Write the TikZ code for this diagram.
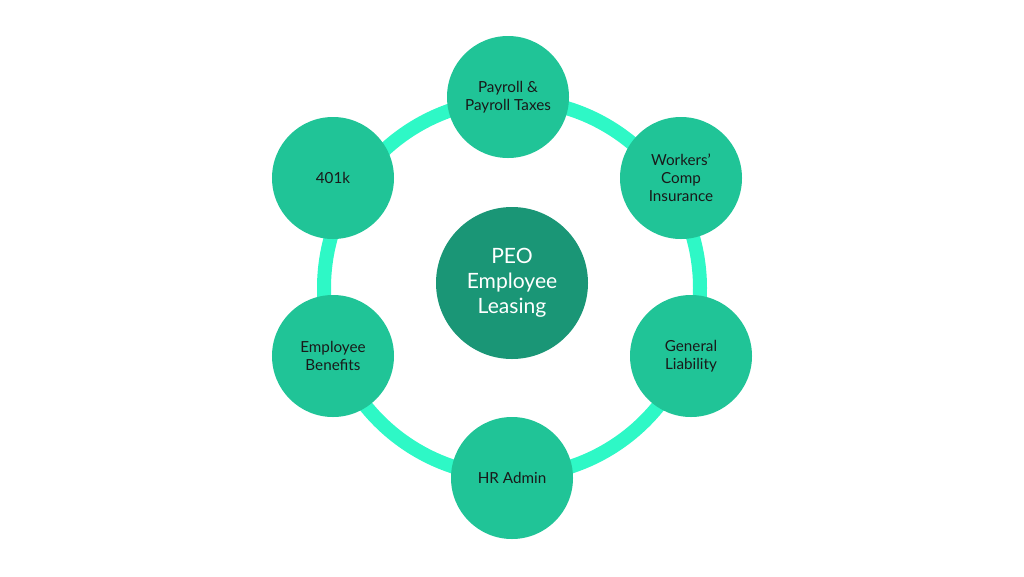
\documentclass[tikz,border=0pt]{standalone}
\usepackage{fontspec}
\setmainfont{Lato}
\definecolor{ringc}{HTML}{2EF8C6}
\definecolor{nodec}{HTML}{20C497}
\definecolor{centc}{HTML}{1A9676}
\begin{document}
\begin{tikzpicture}[x=0.03cm,y=-0.03cm,
 sat/.style={circle,fill=nodec,minimum size=3.66cm,inner sep=0pt,align=center,font=\fontsize{13}{15.5}\selectfont,text=black!90},
 hub/.style={circle,fill=centc,minimum size=4.56cm,inner sep=0pt,align=center,font=\fontsize{18}{21.5}\selectfont,text=white}]
\useasboundingbox (0,0) rectangle (1024,576);
\coordinate (rc) at (512,288);
\draw[ringc,line width=0.42cm] (rc) circle (188*0.03cm);
\node[hub] (c) at (512,283) {PEO\\Employee\\Leasing};
\node[sat] (p) at (508,97) {Payroll \&\\Payroll Taxes};
\node[sat] (w) at (681,178) {Workers’\\Comp\\Insurance};
\node[sat] (k) at (333,178) {401k};
\node[sat] (g) at (691,356) {General\\Liability};
\node[sat] (e) at (333,356) {Employee\\Benefits};
\node[sat] (h) at (512,478) {HR Admin};
\end{tikzpicture}
\end{document}
